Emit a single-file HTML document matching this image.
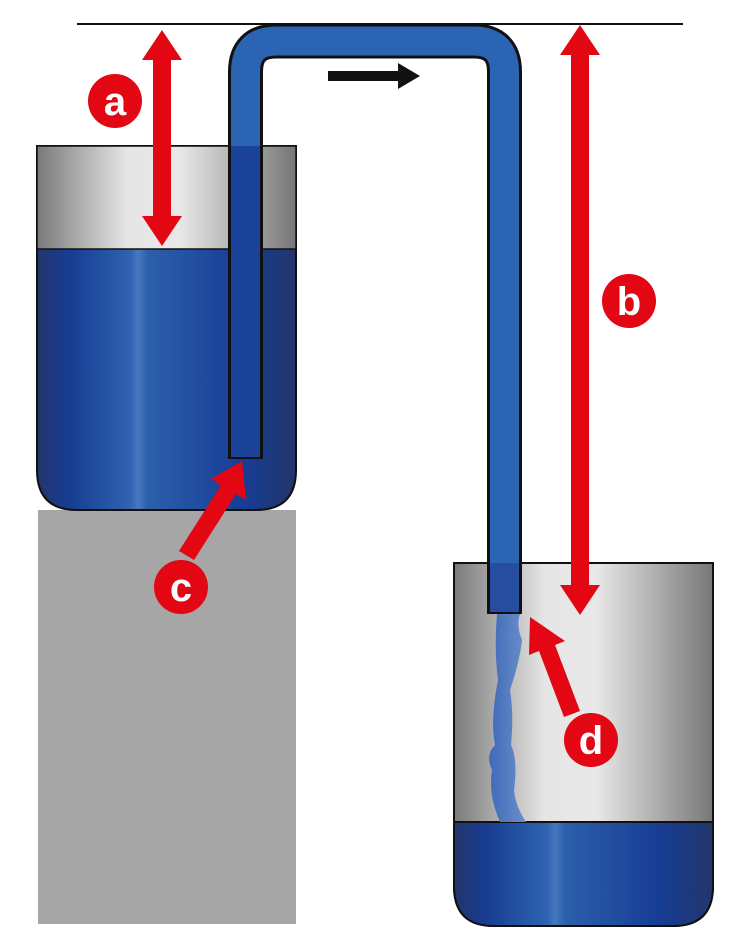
<!DOCTYPE html>
<html><head><style>body{margin:0;background:#fff}svg{display:block}</style></head><body>
<svg width="750" height="950" viewBox="0 0 750 950" xmlns="http://www.w3.org/2000/svg">
<defs>
<linearGradient id="w" x1="0" x2="1"><stop offset="0" stop-color="#22366a"/><stop offset=".12" stop-color="#173c92"/><stop offset=".36" stop-color="#2f63b0"/><stop offset=".39" stop-color="#4877bd"/><stop offset=".43" stop-color="#2c5fac"/><stop offset=".8" stop-color="#163c94"/><stop offset="1" stop-color="#22366a"/></linearGradient>
<linearGradient id="g" x1="0" x2="1"><stop offset="0" stop-color="#7a7a7a"/><stop offset=".35" stop-color="#e6e6e6"/><stop offset=".55" stop-color="#e8e8e8"/><stop offset="1" stop-color="#777"/></linearGradient>
<linearGradient id="s" x1="0" x2="1"><stop offset="0" stop-color="#3f6ab8"/><stop offset="1" stop-color="#6d8fcb"/></linearGradient>
</defs>
<line x1="77" y1="24" x2="683" y2="24" stroke="#111" stroke-width="2"/>
<rect x="38" y="510" width="258" height="414" fill="#a6a6a6"/>
<path d="M37 146H296V470Q296 510 256 510H77Q37 510 37 470Z" fill="url(#w)" stroke="#111" stroke-width="2"/>
<rect x="37" y="146" width="259" height="103" fill="url(#g)" stroke="#111" stroke-width="1.5"/>
<path d="M454 563H713V886Q713 926 673 926H494Q454 926 454 886Z" fill="url(#g)" stroke="#111" stroke-width="2"/>
<path d="M454 822H713V886Q713 926 673 926H494Q454 926 454 886Z" fill="url(#w)" stroke="#111" stroke-width="2"/>
<path d="M497 614 Q494 650 498 680 Q490 720 495 745 Q485 755 492 770 Q488 795 500 822 L526 822 Q515 805 514 790 Q518 760 511 745 Q514 715 510 690 Q520 660 522 640 Q516 625 520 614Z" fill="url(#s)"/>
<path d="M245.5 459V72Q245.5 41 276.5 41H473.5Q504.5 41 504.5 72V614" fill="none" stroke="#111" stroke-width="35"/>
<path d="M245.5 457V72Q245.5 41 276.5 41H473.5Q504.5 41 504.5 72V612" fill="none" stroke="#2b64b3" stroke-width="29"/>
<rect x="231" y="146" width="29" height="311" fill="#1b4399"/>
<rect x="490" y="563" width="29" height="49" fill="#264d9f"/>
<path d="M328 71H398V63L420 76L398 89V81H328Z" fill="#111"/>
<g fill="#e30613">
<path d="M162 30L182 60H171V216H182L162 246L142 216H153V60H142Z"/>
<path d="M580 25L600 55H589V585H600L580 615L560 585H571V55H560Z"/>
<path d="M242 461L246 500L236 494L194 560L179 551L221 485L211 479Z"/>
<path d="M530 617L565 641L555 645L580 711L564 717L539 651L529 655Z"/>
<circle cx="115" cy="101" r="27"/><circle cx="629" cy="301" r="27"/><circle cx="181" cy="587" r="27"/><circle cx="591" cy="740" r="27"/>
</g>
<g fill="#fff" font-family="Liberation Sans, sans-serif" font-weight="bold" font-size="40" text-anchor="middle">
<text x="115" y="115">a</text><text x="629" y="315">b</text><text x="181" y="601">c</text><text x="591" y="754">d</text>
</g>
</svg>
</body></html>
